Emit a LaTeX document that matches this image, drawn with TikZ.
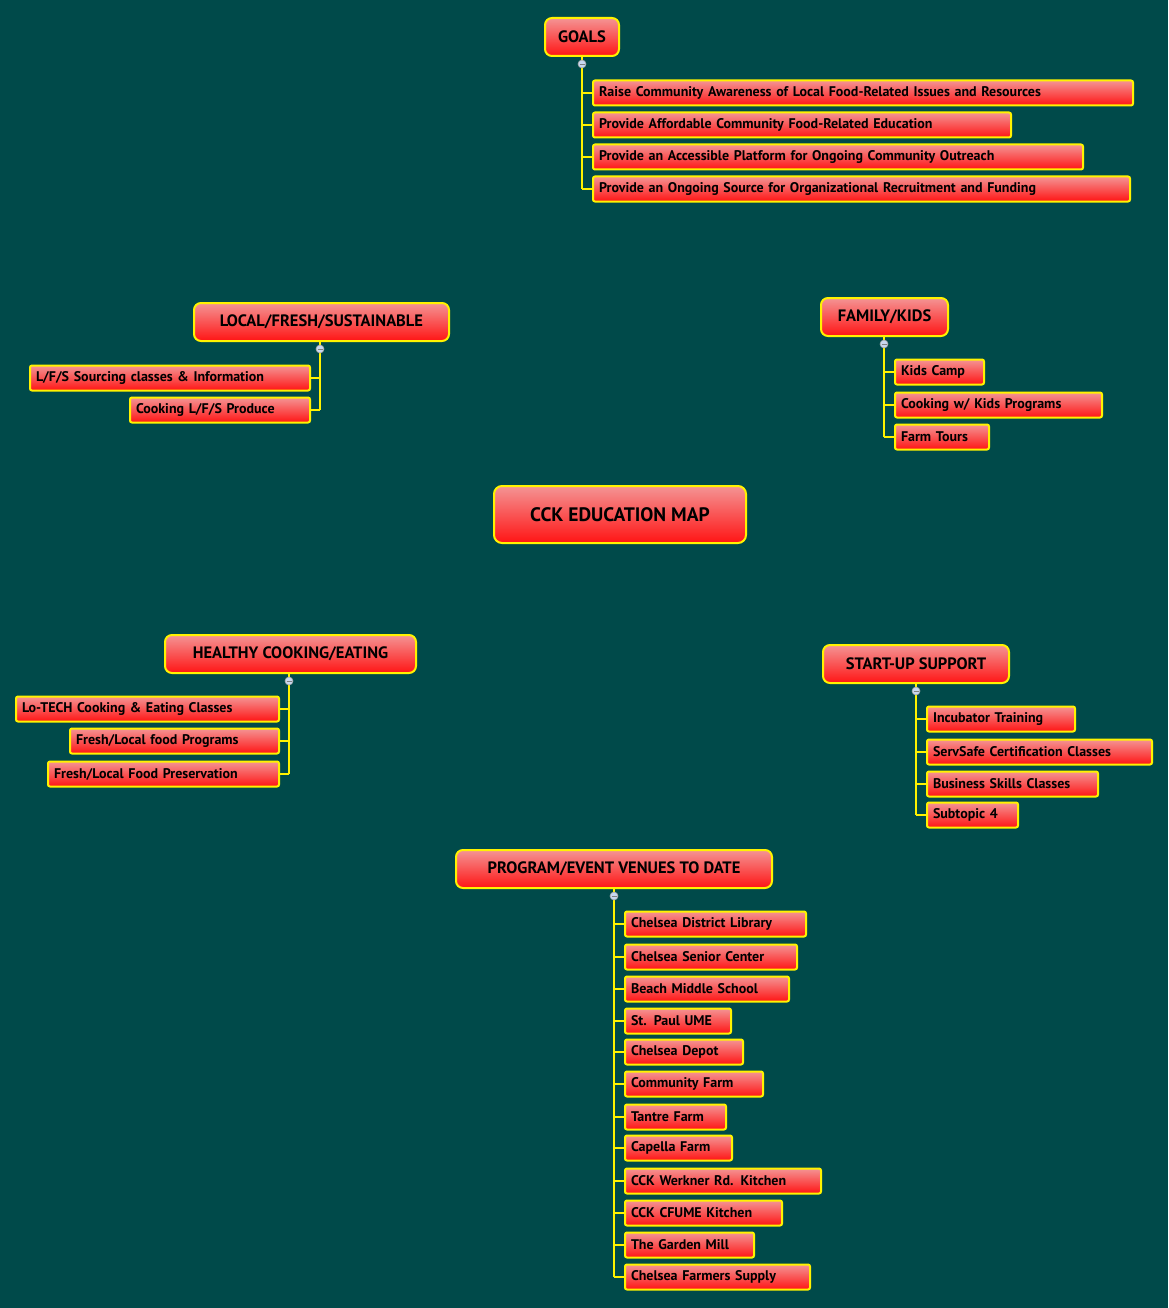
\documentclass[tikz,border=0pt]{standalone}
\usepackage{fontspec}
\setmainfont{PT Sans}
\definecolor{bg}{HTML}{004A4A}
\definecolor{topc}{HTML}{F49494}
\definecolor{botc}{HTML}{FF1414}
\definecolor{dotc}{HTML}{C8D8F0}
\tikzset{
  base/.style={draw=yellow, line width=2pt, top color=topc, bottom color=botc, inner sep=0pt, font=\bfseries},
  sub/.style={base, rounded corners=2pt, anchor=west, font=\fontsize{14}{14}\selectfont\bfseries, align=left, inner xsep=6pt, minimum height=25pt},
  topic/.style={base, rounded corners=7pt, font=\fontsize{16.5}{17}\selectfont\bfseries, minimum height=38pt},
  conn/.style={draw=yellow, line width=2pt},
  dot/.style={circle, draw=gray!70, fill=dotc, minimum size=8pt, inner sep=0pt, line width=0.6pt}
}
\newcommand{\subbox}[5]{\node[sub, text width={\dimexpr #3pt-#2pt-12pt\relax}] (#1) at (#2,#4) {#5};}
\newcommand{\topicbox}[6]{\node[topic, minimum width={\dimexpr #3pt-#2pt\relax}] (#1) at ({(#2+#3)/2},{(#4+#5)/2}) {#6};}
\begin{document}
\begin{tikzpicture}[x=1pt,y=-1pt]
\fill[bg] (0,0) rectangle (1168,1308);
\useasboundingbox (0,0) rectangle (1168,1308);
% center
\node[base, rounded corners=8pt, minimum width=252pt, minimum height=57pt, font=\fontsize{19.5}{20}\selectfont\bfseries] (center) at (620,514.5) {CCK EDUCATION MAP};
% GOALS
\topicbox{goals}{545}{619}{17}{57}{GOALS}
\coordinate (gd) at (582,64);
\draw[conn] (goals.south) -- (gd) -- (582,189);
\subbox{g1}{592}{1132}{93}{Raise Community Awareness of Local Food-Related Issues and Resources}
\subbox{g2}{592}{1010}{125}{Provide Affordable Community Food-Related Education}
\subbox{g3}{592}{1082}{157}{Provide an Accessible Platform for Ongoing Community Outreach}
\subbox{g4}{592}{1129}{189}{Provide an Ongoing Source for Organizational Recruitment and Funding}
\foreach \n in {g1,g2,g3,g4} \draw[conn] (\n.west) -- (582,0 |- \n.west);
\node[dot] at (gd) {}; \draw[gray,line width=0.6pt] (579.5,64)--(584.5,64);
% LOCAL
\topicbox{local}{194}{449}{302}{342}{LOCAL/FRESH/SUSTAINABLE}
\coordinate (ld) at (320,349);
\draw[conn] (local.south -| ld) -- (ld) -- (320,410);
\node[sub, text width=268pt, anchor=east] (l1) at (311,378) {L/F/S Sourcing classes \& Information};
\node[sub, text width=168pt, anchor=east] (l2) at (311,410) {Cooking L/F/S Produce};
\foreach \n in {l1,l2} \draw[conn] (\n.east) -- (320,0 |- \n.east);
\node[dot] at (ld) {}; \draw[gray,line width=0.6pt] (317.5,349)--(322.5,349);
% FAMILY
\topicbox{fam}{821}{948}{297}{337}{FAMILY/KIDS}
\coordinate (fd) at (884,344);
\draw[conn] (fam.south -| fd) -- (fd) -- (884,437);
\subbox{f1}{894}{983}{372}{Kids Camp}
\subbox{f2}{894}{1101}{405}{Cooking w/ Kids Programs}
\subbox{f3}{894}{988}{437}{Farm Tours}
\foreach \n in {f1,f2,f3} \draw[conn] (\n.west) -- (884,0 |- \n.west);
\node[dot] at (fd) {}; \draw[gray,line width=0.6pt] (881.5,344)--(886.5,344);
% HEALTHY
\topicbox{heal}{165}{416}{634}{674}{HEALTHY COOKING/EATING}
\coordinate (hd) at (289,681);
\draw[conn] (heal.south -| hd) -- (hd) -- (289,774);
\node[sub, text width=251pt, anchor=east] (h1) at (280,709) {Lo-TECH Cooking \& Eating Classes};
\node[sub, text width=197pt, anchor=east] (h2) at (280,741) {Fresh/Local food Programs};
\node[sub, text width=219pt, anchor=east] (h3) at (280,774) {Fresh/Local Food Preservation};
\foreach \n in {h1,h2,h3} \draw[conn] (\n.east) -- (289,0 |- \n.east);
\node[dot] at (hd) {}; \draw[gray,line width=0.6pt] (286.5,681)--(291.5,681);
% START-UP
\topicbox{start}{823}{1009}{644}{684}{START-UP SUPPORT}
\coordinate (sd) at (916,691);
\draw[conn] (start.south -| sd) -- (sd) -- (916,815);
\subbox{s1}{926}{1074}{719}{Incubator Training}
\subbox{s2}{926}{1151}{752}{ServSafe Certification Classes}
\subbox{s3}{926}{1097}{784}{Business Skills Classes}
\subbox{s4}{926}{1017}{815}{Subtopic 4}
\foreach \n in {s1,s2,s3,s4} \draw[conn] (\n.west) -- (916,0 |- \n.west);
\node[dot] at (sd) {}; \draw[gray,line width=0.6pt] (913.5,691)--(918.5,691);
% PROGRAM
\topicbox{prog}{456}{772}{849}{889}{PROGRAM/EVENT VENUES TO DATE}
\coordinate (pd) at (614,896);
\draw[conn] (prog.south -| pd) -- (pd) -- (614,1277);
\subbox{p1}{624}{805}{924}{Chelsea District Library}
\subbox{p2}{624}{796}{957}{Chelsea Senior Center}
\subbox{p3}{624}{788}{989}{Beach Middle School}
\subbox{p4}{624}{730}{1021}{St. Paul UME}
\subbox{p5}{624}{742}{1052}{Chelsea Depot}
\subbox{p6}{624}{762}{1084}{Community Farm}
\subbox{p7}{624}{725}{1117}{Tantre Farm}
\subbox{p8}{624}{731}{1148}{Capella Farm}
\subbox{p9}{624}{820}{1181}{CCK Werkner Rd. Kitchen}
\subbox{p10}{624}{781}{1213}{CCK CFUME Kitchen}
\subbox{p11}{624}{753}{1245}{The Garden Mill}
\subbox{p12}{624}{809}{1277}{Chelsea Farmers Supply}
\foreach \n in {p1,p2,p3,p4,p5,p6,p7,p8,p9,p10,p11,p12} \draw[conn] (\n.west) -- (614,0 |- \n.west);
\node[dot] at (pd) {}; \draw[gray,line width=0.6pt] (611.5,896)--(616.5,896);
\end{tikzpicture}
\end{document}
